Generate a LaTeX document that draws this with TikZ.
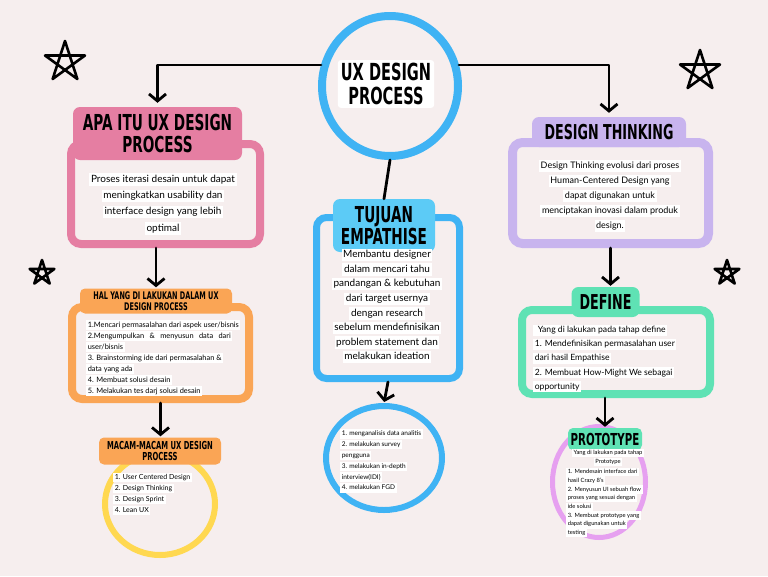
\documentclass[tikz,border=0pt]{standalone}
\usepackage{fontspec}
\setmainfont{Lato}
\newfontfamily\hfont{DejaVu Sans}[FakeStretch=0.62]
\usetikzlibrary{shapes.geometric,arrows.meta,calc}
\definecolor{bgc}{HTML}{F6EEEE}
\definecolor{pinkc}{HTML}{E57EA2}
\definecolor{orangec}{HTML}{FAA555}
\definecolor{yellowc}{HTML}{FFD850}
\definecolor{bluec}{HTML}{3FB3F4}
\definecolor{lbluec}{HTML}{5CCBF6}
\definecolor{purplec}{HTML}{C8B4EE}
\definecolor{greenc}{HTML}{5FE2B4}
\definecolor{violetc}{HTML}{E6A0F0}
\setlength\fboxsep{1.6pt}
\newcommand\wl[1]{\colorbox{white}{\vphantom{Agy}#1}}
\tikzset{
  hdr/.style={rounded corners=7pt, inner sep=0pt, align=center, font=\hfont\bfseries},
  frame/.style={rounded corners=10pt, inner sep=0pt},
  ring/.style={ellipse, inner sep=0pt},
  txt/.style={inner sep=0pt},
  conn/.style={line width=2.8pt, line cap=round, line join=round, black},
  arr/.style={conn, -{Straight Barb[length=7pt,width=17pt]}, shorten >=1pt},
  starline/.style={line width=2.6pt, line join=round, line cap=round, black}
}
\begin{document}
\begin{tikzpicture}[x=1pt,y=-1pt]
\fill[bgc] (0,0) rectangle (768,576);
\useasboundingbox (0,0) rectangle (768,576);

% stars
\draw[starline, shift={(65,62)}] (-90:21) -- (-234:21) -- (-18:21) -- (-162:21) -- (-306:21) -- cycle;
\draw[starline, shift={(700,71)}] (-90:21) -- (-234:21) -- (-18:21) -- (-162:21) -- (-306:21) -- cycle;
\draw[starline, shift={(42,273)}] (-90:13) -- (-234:13) -- (-18:13) -- (-162:13) -- (-306:13) -- cycle;
\draw[starline, shift={(727,273)}] (-90:13) -- (-234:13) -- (-18:13) -- (-162:13) -- (-306:13) -- cycle;

% central circle
\node[ring, draw=bluec, line width=8pt, minimum width=136pt, minimum height=140pt] (ux) at (390,86) {};
\node[fill=white, rounded corners=3pt, inner sep=3pt, align=center, font=\hfont\bfseries\fontsize{23.5}{24}\selectfont] (uxt) at (386,84) {UX DESIGN\\PROCESS};

% pink block
\node[frame, draw=pinkc, line width=8pt, minimum width=189pt, minimum height=100pt] (pinkframe) at (165.5,194) {};
\node[hdr, fill=pinkc, minimum width=169pt, minimum height=53pt, font=\hfont\bfseries\fontsize{22}{22}\selectfont] (apahead) at (157.5,133.5) {APA ITU UX DESIGN\\PROCESS};
\node[txt, align=center, font=\fontsize{10}{16.4}\selectfont] (apatxt) at (163,204) {\wl{Proses iterasi desain untuk dapat}\\\wl{meningkatkan usability dan}\\\wl{interface design yang lebih}\\\wl{optimal}};

% orange block
\node[frame, draw=orangec, line width=8pt, minimum width=177pt, minimum height=92pt] (orframe) at (160.5,353) {};
\node[hdr, fill=orangec, rounded corners=5pt, minimum width=152pt, minimum height=25pt, font=\hfont\bfseries\fontsize{10.5}{11}\selectfont] (orhead) at (156,301) {HAL YANG DI LAKUKAN DALAM UX\\DESIGN PROCESS};
\node[txt, anchor=west, align=left, font=\fontsize{7.4}{10}\selectfont] (ortxt) at (86,358) {\wl{1.Mencari permasalahan dari aspek user/bisnis}\\\wl{\makebox[143pt][s]{2.Mengumpulkan \& menyusun data dari}}\\\wl{user/bisnis}\\\wl{3. Brainstorming ide dari permasalahan \&}\\\wl{data yang ada}\\\wl{4. Membuat solusi desain}\\\wl{5. Melakukan tes darj solusi desain}};

% yellow circle
\node[ring, draw=yellowc, line width=6pt, minimum width=110pt, minimum height=102pt] (ycirc) at (160,504) {};
\node[hdr, fill=orangec, rounded corners=5pt, minimum width=122pt, minimum height=27pt, font=\hfont\bfseries\fontsize{11}{11}\selectfont] (mchead) at (160,451) {MACAM-MACAM UX DESIGN\\PROCESS};
\node[txt, anchor=west, align=left, font=\fontsize{7}{11}\selectfont] (mctxt) at (113,494) {\wl{1. User Centered Design}\\\wl{2. Design Thinking}\\\wl{3. Design Sprint}\\\wl{4. Lean UX}};

% blue block
\node[frame, draw=bluec, line width=7pt, minimum width=143pt, minimum height=161pt] (tjframe) at (388,298) {};
\node[hdr, fill=lbluec, minimum width=102pt, minimum height=53pt, font=\hfont\bfseries\fontsize{22}{22}\selectfont] (tjhead) at (384,225.5) {TUJUAN\\EMPATHISE};
\node[txt, align=center, font=\fontsize{10}{14.6}\selectfont] (tjtxt) at (387,306) {\wl{Membantu designer}\\\wl{dalam mencari tahu}\\\wl{pandangan \& kebutuhan}\\\wl{dari target usernya}\\\wl{dengan research}\\\wl{sebelum mendefinisikan}\\\wl{problem statement dan}\\\wl{melakukan ideation}};

% blue circle
\node[ring, draw=bluec, line width=6pt, minimum width=116pt, minimum height=104pt] (bcirc) at (384,458) {};
\node[txt, anchor=west, align=left, font=\fontsize{6.5}{10.8}\selectfont] (bctxt) at (340,461) {\wl{1. menganalisis data analitis}\\\wl{2. melakukan survey}\\\wl{pengguna}\\\wl{3. melakukan in-depth}\\\wl{interview(IDI)}\\\wl{4. melakukan FGD}};

% purple block
\node[frame, draw=purplec, line width=9pt, minimum width=196pt, minimum height=101pt] (dtframe) at (610.5,193) {};
\node[hdr, fill=purplec, minimum width=154pt, minimum height=30pt, font=\hfont\bfseries\fontsize{20.5}{20}\selectfont] (dthead) at (609,132) {DESIGN THINKING};
\node[txt, align=center, font=\fontsize{9}{15}\selectfont] (dttxt) at (610,196) {\wl{Design Thinking evolusi dari proses}\\\wl{Human-Centered Design yang}\\\wl{dapat digunakan untuk}\\\wl{menciptakan inovasi dalam produk}\\\wl{design.}};

% green block
\node[frame, draw=greenc, line width=8pt, minimum width=188pt, minimum height=84pt] (dfframe) at (616,352) {};
\node[hdr, fill=greenc, minimum width=68pt, minimum height=30pt, font=\hfont\bfseries\fontsize{20.5}{20}\selectfont] (dfhead) at (605.5,302) {DEFINE};
\node[txt, anchor=west, align=left, font=\fontsize{8.6}{14.2}\selectfont] (dftxt) at (533,358.5) {\wl{\hspace{3pt}Yang di lakukan pada tahap define}\\\wl{1. Mendefinisikan permasalahan user}\\\wl{dari hasil Empathise}\\\wl{2. Membuat How-Might We sebagai}\\\wl{opportunity}};

% violet circle
\node[ring, draw=violetc, line width=5pt, minimum width=93pt, minimum height=111pt] (pcirc) at (599,482) {};
\node[hdr, fill=greenc, rounded corners=5pt, minimum width=74pt, minimum height=22pt, font=\hfont\bfseries\fontsize{16.5}{16}\selectfont] (pthead) at (605,439) {PROTOTYPE};
\node[txt, align=center, font=\fontsize{5.8}{8.8}\selectfont] (pttop) at (608,457.5) {\wl{Yang di lakukan pada tahap}\\\wl{Prototype}};
\node[txt, anchor=west, align=left, font=\fontsize{5.8}{8.7}\selectfont] (ptlist) at (566,502.5) {\wl{1. Mendesain interface dari}\\\wl{hasil Crazy 8's}\\\wl{2. Menyusun UI sebuah flow}\\\wl{proses yang sesuai dengan}\\\wl{ide solusi}\\\wl{3. Membuat prototype yang}\\\wl{dapat digunakan untuk}\\\wl{testing}};

% connectors
\draw[arr, shorten >=4pt] (ux.163) -| (apahead.north);
\draw[arr, shorten >=4pt] (ux.17) -| (dthead.north);
\draw[conn] (ux.south) -- (tjhead.north);
\draw[arr] (pinkframe.south -| orhead.north) -- (orhead.north);
\draw[arr] (orframe.south) -- (orframe.south |- mchead.north);
\draw[arr] (tjframe.south) -- (bcirc.north);
\draw[arr] (dtframe.south) -- (dtframe.south |- dfhead.north);
\draw[arr] (dfframe.south -| pthead.north) -- (pthead.north);
\end{tikzpicture}
\end{document}
